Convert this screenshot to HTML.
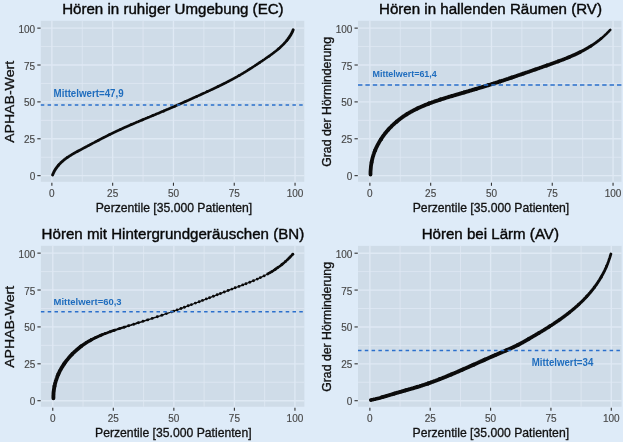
<!DOCTYPE html>
<html lang="de"><head><meta charset="utf-8"><title>APHAB Perzentile</title>
<style>
html,body{margin:0;padding:0;background:#deebf8;}
body{width:623px;height:442px;overflow:hidden;}
svg{display:block;font-family:"Liberation Sans",sans-serif;}
</style></head><body>
<svg width="623" height="442" viewBox="0 0 623 442">
<rect width="623" height="442" fill="#deebf8"/>
<g>
<rect x="40.8" y="20.8" width="263.50" height="161.00" fill="#cfdce8"/>
<line x1="82.27" x2="82.27" y1="20.8" y2="181.8" stroke="#dfe9f4" stroke-width="0.8"/>
<line y1="157.21" y2="157.21" x1="40.8" x2="304.3" stroke="#dfe9f4" stroke-width="0.8"/>
<line x1="143.06" x2="143.06" y1="20.8" y2="181.8" stroke="#dfe9f4" stroke-width="0.8"/>
<line y1="120.33" y2="120.33" x1="40.8" x2="304.3" stroke="#dfe9f4" stroke-width="0.8"/>
<line x1="203.86" x2="203.86" y1="20.8" y2="181.8" stroke="#dfe9f4" stroke-width="0.8"/>
<line y1="83.45" y2="83.45" x1="40.8" x2="304.3" stroke="#dfe9f4" stroke-width="0.8"/>
<line x1="264.65" x2="264.65" y1="20.8" y2="181.8" stroke="#dfe9f4" stroke-width="0.8"/>
<line y1="46.57" y2="46.57" x1="40.8" x2="304.3" stroke="#dfe9f4" stroke-width="0.8"/>
<line x1="51.87" x2="51.87" y1="20.8" y2="181.8" stroke="#dfe9f4" stroke-width="1.35"/>
<line y1="175.65" y2="175.65" x1="40.8" x2="304.3" stroke="#dfe9f4" stroke-width="1.35"/>
<line x1="51.87" x2="51.87" y1="182.70" y2="185.80" stroke="#333" stroke-width="1.1"/>
<line y1="175.65" y2="175.65" x1="37.30" x2="40.60" stroke="#333" stroke-width="1.1"/>
<text x="51.87" y="197.00" text-anchor="middle" font-size="10" fill="#484848" stroke="#484848" stroke-width="0.15">0</text>
<text x="35.20" y="180.15" text-anchor="end" font-size="10" fill="#484848" stroke="#484848" stroke-width="0.15">0</text>
<line x1="112.66" x2="112.66" y1="20.8" y2="181.8" stroke="#dfe9f4" stroke-width="1.35"/>
<line y1="138.77" y2="138.77" x1="40.8" x2="304.3" stroke="#dfe9f4" stroke-width="1.35"/>
<line x1="112.66" x2="112.66" y1="182.70" y2="185.80" stroke="#333" stroke-width="1.1"/>
<line y1="138.77" y2="138.77" x1="37.30" x2="40.60" stroke="#333" stroke-width="1.1"/>
<text x="112.66" y="197.00" text-anchor="middle" font-size="10" fill="#484848" stroke="#484848" stroke-width="0.15">25</text>
<text x="35.20" y="143.27" text-anchor="end" font-size="10" fill="#484848" stroke="#484848" stroke-width="0.15">25</text>
<line x1="173.46" x2="173.46" y1="20.8" y2="181.8" stroke="#dfe9f4" stroke-width="1.35"/>
<line y1="101.89" y2="101.89" x1="40.8" x2="304.3" stroke="#dfe9f4" stroke-width="1.35"/>
<line x1="173.46" x2="173.46" y1="182.70" y2="185.80" stroke="#333" stroke-width="1.1"/>
<line y1="101.89" y2="101.89" x1="37.30" x2="40.60" stroke="#333" stroke-width="1.1"/>
<text x="173.46" y="197.00" text-anchor="middle" font-size="10" fill="#484848" stroke="#484848" stroke-width="0.15">50</text>
<text x="35.20" y="106.39" text-anchor="end" font-size="10" fill="#484848" stroke="#484848" stroke-width="0.15">50</text>
<line x1="234.25" x2="234.25" y1="20.8" y2="181.8" stroke="#dfe9f4" stroke-width="1.35"/>
<line y1="65.01" y2="65.01" x1="40.8" x2="304.3" stroke="#dfe9f4" stroke-width="1.35"/>
<line x1="234.25" x2="234.25" y1="182.70" y2="185.80" stroke="#333" stroke-width="1.1"/>
<line y1="65.01" y2="65.01" x1="37.30" x2="40.60" stroke="#333" stroke-width="1.1"/>
<text x="234.25" y="197.00" text-anchor="middle" font-size="10" fill="#484848" stroke="#484848" stroke-width="0.15">75</text>
<text x="35.20" y="69.51" text-anchor="end" font-size="10" fill="#484848" stroke="#484848" stroke-width="0.15">75</text>
<line x1="295.05" x2="295.05" y1="20.8" y2="181.8" stroke="#dfe9f4" stroke-width="1.35"/>
<line y1="28.13" y2="28.13" x1="40.8" x2="304.3" stroke="#dfe9f4" stroke-width="1.35"/>
<line x1="295.05" x2="295.05" y1="182.70" y2="185.80" stroke="#333" stroke-width="1.1"/>
<line y1="28.13" y2="28.13" x1="37.30" x2="40.60" stroke="#333" stroke-width="1.1"/>
<text x="295.05" y="197.00" text-anchor="middle" font-size="10" fill="#484848" stroke="#484848" stroke-width="0.15">100</text>
<text x="35.20" y="32.63" text-anchor="end" font-size="10" fill="#484848" stroke="#484848" stroke-width="0.15">100</text>
<path d="M52.6,174.9 L53.1,173.7 L53.6,172.7 L54.1,171.6 L54.7,170.6 L55.3,169.6 L55.9,168.6 L56.6,167.7 L57.2,166.8 L57.9,165.9 L58.6,165.1" fill="none" stroke="#0b0b0b" stroke-width="2.95" stroke-linecap="round" stroke-linejoin="round"/>
<path d="M58.6,165.1 L59.0,164.6 L59.4,164.2 L59.8,163.8 L60.2,163.4 L60.5,163.0 L60.9,162.7 L61.3,162.3 L61.7,161.9 L62.1,161.5 L62.6,161.2 L63.0,160.8 L63.4,160.4 L63.8,160.1 L64.3,159.7 L64.7,159.4 L65.1,159.1 L65.6,158.7 L66.0,158.4 L66.5,158.1 L66.9,157.7 L67.4,157.4" fill="none" stroke="#0b0b0b" stroke-width="2.84" stroke-linecap="round" stroke-linejoin="round"/>
<path d="M67.4,157.4 L67.9,157.1 L68.3,156.8 L68.8,156.5 L69.3,156.2 L69.7,155.9 L70.2,155.6 L70.7,155.3 L71.2,155.0 L71.7,154.7 L72.1,154.4 L72.6,154.1 L73.1,153.8 L73.6,153.5 L74.1,153.3 L74.6,153.0 L75.1,152.7 L75.6,152.4 L76.1,152.1 L76.6,151.9 L77.1,151.6 L77.6,151.3" fill="none" stroke="#0b0b0b" stroke-width="2.74" stroke-linecap="round" stroke-linejoin="round"/>
<path d="M77.6,151.3 L78.1,151.1 L78.6,150.8 L79.1,150.5 L79.7,150.2 L80.2,150.0 L80.7,149.7 L81.2,149.4 L81.7,149.2 L82.2,148.9 L82.7,148.6 L83.2,148.3 L83.7,148.1 L84.3,147.8 L84.8,147.5 L85.3,147.3 L85.8,147.0 L86.3,146.7 L86.8,146.4 L87.3,146.2 L87.8,145.9 L88.4,145.6" fill="none" stroke="#0b0b0b" stroke-width="2.70" stroke-linecap="round" stroke-linejoin="round"/>
<path d="M88.4,145.6 L89.4,145.1 L90.4,144.5 L91.4,144.0 L92.5,143.4 L93.5,142.9 L94.5,142.4 L95.6,141.8 L96.6,141.3 L97.6,140.7 L98.6,140.2" fill="none" stroke="#0b0b0b" stroke-width="2.69" stroke-linecap="round" stroke-linejoin="round"/>
<path d="M98.6,140.2 L99.2,139.9 L99.7,139.6 L100.2,139.4 L100.7,139.1 L101.2,138.8 L101.7,138.6 L102.3,138.3 L102.8,138.0 L103.3,137.8 L103.8,137.5 L104.3,137.2 L104.8,137.0 L105.4,136.7 L105.9,136.5 L106.4,136.2 L106.9,135.9 L107.4,135.7 L107.9,135.4 L108.5,135.2 L109.0,134.9 L109.5,134.6" fill="none" stroke="#0b0b0b" stroke-width="2.69" stroke-linecap="round" stroke-linejoin="round"/>
<path d="M109.5,134.6 L110.0,134.4 L110.5,134.1 L111.0,133.9 L111.6,133.6 L112.1,133.4 L112.6,133.1 L113.1,132.9 L113.6,132.6 L114.1,132.4 L114.7,132.1 L115.2,131.9 L115.7,131.6 L116.2,131.4 L116.7,131.1 L117.3,130.9 L117.8,130.6 L118.3,130.4 L118.8,130.2 L119.3,129.9 L119.9,129.7 L120.4,129.4" fill="none" stroke="#0b0b0b" stroke-width="2.68" stroke-linecap="round" stroke-linejoin="round"/>
<path d="M120.4,129.4 L120.9,129.2 L121.4,129.0 L121.9,128.7 L122.5,128.5 L123.0,128.3 L123.5,128.0 L124.0,127.8 L124.5,127.6 L125.1,127.3 L125.6,127.1 L126.1,126.9 L126.6,126.6 L127.1,126.4 L127.7,126.2 L128.2,125.9 L128.7,125.7 L129.2,125.5 L129.7,125.3 L130.3,125.0 L130.8,124.8 L131.3,124.6" fill="none" stroke="#0b0b0b" stroke-width="2.68" stroke-linecap="round" stroke-linejoin="round"/>
<path d="M131.3,124.6 L131.8,124.4 L132.3,124.1 L132.9,123.9 L133.4,123.7 L133.9,123.5 L134.4,123.2 L135.0,123.0 L135.5,122.8 L136.0,122.6 L136.5,122.3 L137.0,122.1 L137.6,121.9 L138.1,121.7 L138.6,121.5 L139.1,121.2 L139.7,121.0 L140.2,120.8 L140.7,120.6 L141.2,120.4 L141.7,120.1 L142.3,119.9" fill="none" stroke="#0b0b0b" stroke-width="2.67" stroke-linecap="round" stroke-linejoin="round"/>
<path d="M142.3,119.9 L143.3,119.5 L144.4,119.1 L145.4,118.6 L146.4,118.2 L147.5,117.8 L148.5,117.3 L149.6,116.9 L150.6,116.4 L151.7,116.0 L152.7,115.6" fill="none" stroke="#0b0b0b" stroke-width="2.66" stroke-linecap="round" stroke-linejoin="round"/>
<path d="M152.7,115.6 L153.3,115.4 L153.8,115.1 L154.3,114.9 L154.8,114.7 L155.4,114.5 L155.9,114.3 L156.4,114.0 L156.9,113.8 L157.5,113.6 L158.0,113.4 L158.5,113.2 L159.0,113.0 L159.6,112.7 L160.1,112.5 L160.6,112.3 L161.1,112.1 L161.7,111.8 L162.2,111.6 L162.7,111.4 L163.2,111.2 L163.8,111.0" fill="none" stroke="#0b0b0b" stroke-width="2.66" stroke-linecap="round" stroke-linejoin="round"/>
<path d="M163.8,111.0 L164.3,110.7 L164.8,110.5 L165.3,110.3 L165.9,110.1 L166.4,109.8 L166.9,109.6 L167.4,109.4 L168.0,109.2 L168.5,108.9 L169.0,108.7 L169.5,108.5 L170.1,108.3 L170.6,108.0 L171.1,107.8 L171.6,107.6 L172.2,107.4 L172.7,107.1 L173.2,106.9 L173.7,106.7 L174.3,106.4 L174.8,106.2" fill="none" stroke="#0b0b0b" stroke-width="2.65" stroke-linecap="round" stroke-linejoin="round"/>
<path d="M174.8,106.2 L175.3,106.0 L175.8,105.7 L176.4,105.5 L176.9,105.3 L177.4,105.1 L177.9,104.8 L178.5,104.6 L179.0,104.4 L179.5,104.1 L180.0,103.9 L180.6,103.7 L181.1,103.4 L181.6,103.2 L182.2,103.0 L182.7,102.7 L183.2,102.5 L183.7,102.3 L184.3,102.0 L184.8,101.8 L185.3,101.6 L185.8,101.3" fill="none" stroke="#0b0b0b" stroke-width="2.65" stroke-linecap="round" stroke-linejoin="round"/>
<path d="M185.8,101.3 L186.4,101.1 L186.9,100.9 L187.4,100.6 L187.9,100.4 L188.4,100.2 L189.0,99.9 L189.5,99.7 L190.0,99.5 L190.5,99.2 L191.1,99.0 L191.6,98.7 L192.1,98.5 L192.6,98.3 L193.2,98.0 L193.7,97.8 L194.2,97.6 L194.7,97.3 L195.3,97.1 L195.8,96.9 L196.3,96.6 L196.8,96.4" fill="none" stroke="#0b0b0b" stroke-width="2.64" stroke-linecap="round" stroke-linejoin="round"/>
<path d="M196.8,96.4 L197.9,95.9 L198.9,95.4 L200.0,95.0 L201.0,94.5 L202.0,94.0 L203.1,93.5 L204.1,93.1 L205.2,92.6 L206.2,92.1 L207.2,91.6" fill="none" stroke="#0b0b0b" stroke-width="2.64" stroke-linecap="round" stroke-linejoin="round"/>
<path d="M207.2,91.6 L207.8,91.4 L208.3,91.1 L208.8,90.9 L209.3,90.7 L209.8,90.4 L210.4,90.2 L210.9,89.9 L211.4,89.7 L211.9,89.5 L212.4,89.2 L212.9,89.0 L213.5,88.7 L214.0,88.5 L214.5,88.2 L215.0,88.0 L215.5,87.8 L216.0,87.5 L216.5,87.3 L217.1,87.0 L217.6,86.8 L218.1,86.5" fill="none" stroke="#0b0b0b" stroke-width="2.63" stroke-linecap="round" stroke-linejoin="round"/>
<path d="M218.1,86.5 L218.6,86.3 L219.1,86.0 L219.6,85.8 L220.1,85.5 L220.7,85.3 L221.2,85.0 L221.7,84.8 L222.2,84.5 L222.7,84.3 L223.2,84.0 L223.7,83.8 L224.2,83.5 L224.7,83.2 L225.3,83.0 L225.8,82.7 L226.3,82.5 L226.8,82.2 L227.3,81.9 L227.8,81.7 L228.3,81.4 L228.8,81.1" fill="none" stroke="#0b0b0b" stroke-width="2.63" stroke-linecap="round" stroke-linejoin="round"/>
<path d="M228.8,81.1 L229.3,80.9 L229.8,80.6 L230.3,80.3 L230.9,80.1 L231.4,79.8 L231.9,79.5 L232.4,79.3 L232.9,79.0 L233.4,78.7 L233.9,78.4 L234.4,78.2 L234.9,77.9 L235.4,77.6 L235.9,77.3 L236.4,77.1 L236.9,76.8 L237.4,76.5 L237.9,76.2 L238.4,75.9 L238.9,75.6 L239.4,75.3" fill="none" stroke="#0b0b0b" stroke-width="2.62" stroke-linecap="round" stroke-linejoin="round"/>
<path d="M239.4,75.3 L239.9,75.1 L240.4,74.8 L240.9,74.5 L241.4,74.2 L241.9,73.9 L242.4,73.6 L242.9,73.3 L243.4,73.0 L243.9,72.7 L244.4,72.4 L244.9,72.1 L245.4,71.8 L245.9,71.5 L246.4,71.2 L246.9,70.9 L247.4,70.6 L247.8,70.2 L248.3,69.9 L248.8,69.6 L249.3,69.3 L249.8,69.0" fill="none" stroke="#0b0b0b" stroke-width="2.62" stroke-linecap="round" stroke-linejoin="round"/>
<path d="M249.8,69.0 L250.8,68.4 L251.8,67.8 L252.7,67.1 L253.7,66.5 L254.7,65.9 L255.6,65.2 L256.6,64.6 L257.6,63.9 L258.5,63.3 L259.5,62.7" fill="none" stroke="#0b0b0b" stroke-width="2.61" stroke-linecap="round" stroke-linejoin="round"/>
<path d="M259.5,62.7 L259.9,62.4 L260.4,62.0 L260.9,61.7 L261.4,61.4 L261.8,61.1 L262.3,60.8 L262.8,60.4 L263.2,60.1 L263.7,59.8 L264.2,59.5 L264.6,59.2 L265.1,58.8 L265.6,58.5 L266.0,58.2 L266.5,57.9 L267.0,57.6 L267.4,57.2 L267.9,56.9 L268.3,56.6 L268.8,56.3 L269.3,56.0" fill="none" stroke="#0b0b0b" stroke-width="2.61" stroke-linecap="round" stroke-linejoin="round"/>
<path d="M269.3,56.0 L269.7,55.6 L270.2,55.3 L270.6,55.0 L271.1,54.7 L271.5,54.4 L272.0,54.0 L272.4,53.7 L272.9,53.4 L273.3,53.0 L273.8,52.7 L274.2,52.4 L274.6,52.0 L275.1,51.7 L275.5,51.3 L276.0,51.0 L276.4,50.6 L276.8,50.3 L277.3,49.9 L277.7,49.6 L278.1,49.2 L278.6,48.8" fill="none" stroke="#0b0b0b" stroke-width="2.60" stroke-linecap="round" stroke-linejoin="round"/>
<path d="M278.6,48.8 L279.0,48.4 L279.4,48.1 L279.9,47.7 L280.3,47.3 L280.7,46.9 L281.1,46.5 L281.5,46.1 L281.9,45.7 L282.4,45.3 L282.8,44.9 L283.2,44.5 L283.6,44.1 L284.0,43.7 L284.4,43.2 L284.8,42.8 L285.2,42.4 L285.5,42.0 L285.9,41.5 L286.3,41.1 L286.7,40.6 L287.0,40.2" fill="none" stroke="#0b0b0b" stroke-width="2.75" stroke-linecap="round" stroke-linejoin="round"/>
<path d="M287.0,40.2 L287.4,39.7 L287.7,39.3 L288.1,38.8 L288.4,38.3 L288.8,37.9 L289.1,37.4 L289.4,36.9 L289.7,36.4 L290.1,35.9 L290.4,35.4 L290.7,34.9 L291.0,34.4 L291.2,33.9 L291.5,33.4 L291.8,32.9 L292.0,32.4 L292.3,31.9 L292.6,31.4 L292.8,30.8 L293.0,30.3 L293.2,29.8" fill="none" stroke="#0b0b0b" stroke-width="2.92" stroke-linecap="round" stroke-linejoin="round"/>
<line x1="40.8" x2="305.3" y1="104.99" y2="104.99" stroke="#2a6fcc" stroke-width="1.45" stroke-dasharray="3.5 3.3"/>
<text transform="translate(53.6,97.20) scale(0.955,1)" font-size="10.19" font-weight="bold" fill="#1f6dbe">Mittelwert=47,9</text>
<text x="172.9" y="14" text-anchor="middle" font-size="15.1" fill="#080808" stroke="#080808" stroke-width="0.4">Hören in ruhiger Umgebung (EC)</text>
<text x="174" y="211.75" text-anchor="middle" font-size="12.2" fill="#111" stroke="#111" stroke-width="0.3">Perzentile [35.000 Patienten]</text>
<text transform="translate(13.9,101.90) rotate(-90) scale(1,0.94)" text-anchor="middle" font-size="14.1" fill="#111" stroke="#111" stroke-width="0.33">APHAB-Wert</text>
</g>
<g>
<rect x="358.0" y="20.8" width="263.50" height="161.00" fill="#cfdce8"/>
<line x1="400.27" x2="400.27" y1="20.8" y2="181.8" stroke="#dfe9f4" stroke-width="0.8"/>
<line y1="157.21" y2="157.21" x1="358.0" x2="621.5" stroke="#dfe9f4" stroke-width="0.8"/>
<line x1="461.07" x2="461.07" y1="20.8" y2="181.8" stroke="#dfe9f4" stroke-width="0.8"/>
<line y1="120.33" y2="120.33" x1="358.0" x2="621.5" stroke="#dfe9f4" stroke-width="0.8"/>
<line x1="521.86" x2="521.86" y1="20.8" y2="181.8" stroke="#dfe9f4" stroke-width="0.8"/>
<line y1="83.45" y2="83.45" x1="358.0" x2="621.5" stroke="#dfe9f4" stroke-width="0.8"/>
<line x1="582.66" x2="582.66" y1="20.8" y2="181.8" stroke="#dfe9f4" stroke-width="0.8"/>
<line y1="46.57" y2="46.57" x1="358.0" x2="621.5" stroke="#dfe9f4" stroke-width="0.8"/>
<line x1="369.87" x2="369.87" y1="20.8" y2="181.8" stroke="#dfe9f4" stroke-width="1.35"/>
<line y1="175.65" y2="175.65" x1="358.0" x2="621.5" stroke="#dfe9f4" stroke-width="1.35"/>
<line x1="369.87" x2="369.87" y1="182.70" y2="185.80" stroke="#333" stroke-width="1.1"/>
<line y1="175.65" y2="175.65" x1="354.50" x2="357.80" stroke="#333" stroke-width="1.1"/>
<text x="369.87" y="197.00" text-anchor="middle" font-size="10" fill="#484848" stroke="#484848" stroke-width="0.15">0</text>
<text x="352.40" y="180.15" text-anchor="end" font-size="10" fill="#484848" stroke="#484848" stroke-width="0.15">0</text>
<line x1="430.67" x2="430.67" y1="20.8" y2="181.8" stroke="#dfe9f4" stroke-width="1.35"/>
<line y1="138.77" y2="138.77" x1="358.0" x2="621.5" stroke="#dfe9f4" stroke-width="1.35"/>
<line x1="430.67" x2="430.67" y1="182.70" y2="185.80" stroke="#333" stroke-width="1.1"/>
<line y1="138.77" y2="138.77" x1="354.50" x2="357.80" stroke="#333" stroke-width="1.1"/>
<text x="430.67" y="197.00" text-anchor="middle" font-size="10" fill="#484848" stroke="#484848" stroke-width="0.15">25</text>
<text x="352.40" y="143.27" text-anchor="end" font-size="10" fill="#484848" stroke="#484848" stroke-width="0.15">25</text>
<line x1="491.47" x2="491.47" y1="20.8" y2="181.8" stroke="#dfe9f4" stroke-width="1.35"/>
<line y1="101.89" y2="101.89" x1="358.0" x2="621.5" stroke="#dfe9f4" stroke-width="1.35"/>
<line x1="491.47" x2="491.47" y1="182.70" y2="185.80" stroke="#333" stroke-width="1.1"/>
<line y1="101.89" y2="101.89" x1="354.50" x2="357.80" stroke="#333" stroke-width="1.1"/>
<text x="491.47" y="197.00" text-anchor="middle" font-size="10" fill="#484848" stroke="#484848" stroke-width="0.15">50</text>
<text x="352.40" y="106.39" text-anchor="end" font-size="10" fill="#484848" stroke="#484848" stroke-width="0.15">50</text>
<line x1="552.26" x2="552.26" y1="20.8" y2="181.8" stroke="#dfe9f4" stroke-width="1.35"/>
<line y1="65.01" y2="65.01" x1="358.0" x2="621.5" stroke="#dfe9f4" stroke-width="1.35"/>
<line x1="552.26" x2="552.26" y1="182.70" y2="185.80" stroke="#333" stroke-width="1.1"/>
<line y1="65.01" y2="65.01" x1="354.50" x2="357.80" stroke="#333" stroke-width="1.1"/>
<text x="552.26" y="197.00" text-anchor="middle" font-size="10" fill="#484848" stroke="#484848" stroke-width="0.15">75</text>
<text x="352.40" y="69.51" text-anchor="end" font-size="10" fill="#484848" stroke="#484848" stroke-width="0.15">75</text>
<line x1="613.06" x2="613.06" y1="20.8" y2="181.8" stroke="#dfe9f4" stroke-width="1.35"/>
<line y1="28.13" y2="28.13" x1="358.0" x2="621.5" stroke="#dfe9f4" stroke-width="1.35"/>
<line x1="613.06" x2="613.06" y1="182.70" y2="185.80" stroke="#333" stroke-width="1.1"/>
<line y1="28.13" y2="28.13" x1="354.50" x2="357.80" stroke="#333" stroke-width="1.1"/>
<text x="613.06" y="197.00" text-anchor="middle" font-size="10" fill="#484848" stroke="#484848" stroke-width="0.15">100</text>
<text x="352.40" y="32.63" text-anchor="end" font-size="10" fill="#484848" stroke="#484848" stroke-width="0.15">100</text>
<path d="M370.5,174.5 L370.5,173.3 L370.5,172.0 L370.6,170.7 L370.7,169.5 L370.8,168.3 L370.9,167.0 L371.0,165.8 L371.2,164.6 L371.4,163.4 L371.6,162.2" fill="none" stroke="#0b0b0b" stroke-width="3.80" stroke-linecap="round" stroke-linejoin="round"/>
<path d="M371.6,162.2 L371.7,161.6 L371.8,161.0 L372.0,160.5 L372.1,159.9 L372.2,159.3 L372.4,158.7 L372.5,158.1 L372.7,157.5 L372.8,157.0 L373.0,156.4 L373.2,155.8 L373.4,155.3 L373.5,154.7 L373.7,154.1 L373.9,153.6 L374.1,153.0 L374.3,152.5 L374.5,151.9 L374.7,151.4 L374.9,150.8 L375.2,150.3" fill="none" stroke="#0b0b0b" stroke-width="3.81" stroke-linecap="round" stroke-linejoin="round"/>
<path d="M375.2,150.3 L375.4,149.7 L375.6,149.2 L375.9,148.6 L376.1,148.1 L376.3,147.6 L376.6,147.0 L376.9,146.5 L377.1,146.0 L377.4,145.5 L377.6,144.9 L377.9,144.4 L378.2,143.9 L378.5,143.4 L378.8,142.9 L379.0,142.4 L379.3,141.9 L379.6,141.4 L379.9,140.8 L380.2,140.4 L380.6,139.9 L380.9,139.4" fill="none" stroke="#0b0b0b" stroke-width="3.82" stroke-linecap="round" stroke-linejoin="round"/>
<path d="M380.9,139.4 L381.2,138.9 L381.5,138.4 L381.8,137.9 L382.2,137.4 L382.5,136.9 L382.8,136.5 L383.2,136.0 L383.5,135.5 L383.9,135.0 L384.2,134.6 L384.6,134.1 L384.9,133.6 L385.3,133.2 L385.7,132.7 L386.1,132.3 L386.4,131.8 L386.8,131.4 L387.2,130.9 L387.6,130.5 L388.0,130.1 L388.4,129.6" fill="none" stroke="#0b0b0b" stroke-width="3.83" stroke-linecap="round" stroke-linejoin="round"/>
<path d="M388.4,129.6 L389.1,128.8 L389.9,127.9 L390.8,127.1 L391.6,126.2 L392.4,125.4 L393.3,124.6 L394.2,123.8 L395.0,123.0 L395.9,122.3 L396.8,121.5" fill="none" stroke="#0b0b0b" stroke-width="3.84" stroke-linecap="round" stroke-linejoin="round"/>
<path d="M396.8,121.5 L397.3,121.1 L397.7,120.8 L398.2,120.4 L398.6,120.0 L399.1,119.7 L399.6,119.3 L400.0,118.9 L400.5,118.6 L401.0,118.2 L401.4,117.9 L401.9,117.6 L402.4,117.2 L402.9,116.9 L403.3,116.5 L403.8,116.2 L404.3,115.9 L404.8,115.6 L405.3,115.2 L405.8,114.9 L406.3,114.6 L406.7,114.3" fill="none" stroke="#0b0b0b" stroke-width="3.85" stroke-linecap="round" stroke-linejoin="round"/>
<path d="M406.7,114.3 L407.2,114.0 L407.7,113.7 L408.2,113.4 L408.7,113.1 L409.2,112.8 L409.7,112.5 L410.2,112.2 L410.8,111.9 L411.3,111.6 L411.8,111.4 L412.3,111.1 L412.8,110.8 L413.3,110.5 L413.8,110.3 L414.3,110.0 L414.9,109.7 L415.4,109.5 L415.9,109.2 L416.4,109.0 L416.9,108.7 L417.5,108.4" fill="none" stroke="#0b0b0b" stroke-width="3.85" stroke-linecap="round" stroke-linejoin="round"/>
<path d="M417.5,108.4 L418.0,108.2 L418.5,107.9 L419.1,107.7 L419.6,107.5 L420.1,107.2 L420.6,107.0 L421.2,106.7 L421.7,106.5 L422.3,106.3 L422.8,106.0 L423.3,105.8 L423.9,105.6 L424.4,105.4 L425.0,105.1 L425.5,104.9 L426.0,104.7 L426.6,104.5 L427.1,104.3 L427.7,104.1 L428.2,103.9 L428.8,103.6" fill="none" stroke="#0b0b0b" stroke-width="3.86" stroke-linecap="round" stroke-linejoin="round"/>
<path d="M428.8,103.6 L429.3,103.4 L429.9,103.2 L430.4,103.0 L431.0,102.8 L431.6,102.6 L432.1,102.4 L432.7,102.2 L433.2,102.0 L433.8,101.8 L434.3,101.6 L434.9,101.4 L435.5,101.2 L436.0,101.0 L436.6,100.9 L437.1,100.7 L437.7,100.5 L438.3,100.3 L438.8,100.1 L439.4,99.9 L440.0,99.7 L440.5,99.5" fill="none" stroke="#0b0b0b" stroke-width="3.87" stroke-linecap="round" stroke-linejoin="round"/>
<path d="M440.5,99.5 L441.7,99.2 L442.8,98.8 L444.0,98.5 L445.1,98.1 L446.2,97.7 L447.4,97.4 L448.5,97.0 L449.7,96.7 L450.8,96.3 L452.0,96.0" fill="none" stroke="#0b0b0b" stroke-width="3.88" stroke-linecap="round" stroke-linejoin="round"/>
<path d="M452.0,96.0 L452.6,95.8 L453.1,95.7 L453.7,95.5 L454.3,95.3 L454.9,95.1 L455.5,95.0 L456.0,94.8 L456.6,94.6 L457.2,94.5 L457.8,94.3 L458.4,94.1 L458.9,94.0 L459.5,93.8 L460.1,93.6 L460.7,93.4 L461.2,93.3 L461.8,93.1 L462.4,92.9 L463.0,92.8 L463.6,92.6 L464.1,92.4" fill="none" stroke="#0b0b0b" stroke-width="3.89" stroke-linecap="round" stroke-linejoin="round"/>
<path d="M464.1,92.4 L464.7,92.3 L465.3,92.1 L465.9,91.9 L466.5,91.8 L467.0,91.6 L467.6,91.4 L468.2,91.3 L468.8,91.1 L469.3,90.9 L469.9,90.7 L470.5,90.6 L471.1,90.4 L471.6,90.2 L472.2,90.1 L472.8,89.9 L473.4,89.7 L474.0,89.6 L474.5,89.4 L475.1,89.2 L475.7,89.0 L476.3,88.9" fill="none" stroke="#0b0b0b" stroke-width="3.90" stroke-linecap="round" stroke-linejoin="round"/>
<path d="M476.3,88.9 L476.8,88.7 L477.4,88.5 L478.0,88.3 L478.6,88.2 L479.1,88.0 L479.7,87.8 L480.3,87.7 L480.8,87.5 L481.4,87.3 L482.0,87.1 L482.6,87.0 L483.1,86.8 L483.7,86.6 L484.3,86.4 L484.9,86.3 L485.4,86.1 L486.0,85.9 L486.6,85.7 L487.1,85.5 L487.7,85.4 L488.3,85.2" fill="none" stroke="#0b0b0b" stroke-width="3.88" stroke-linecap="round" stroke-linejoin="round"/>
<path d="M488.3,85.2 L488.9,85.0 L489.4,84.8 L490.0,84.7 L490.6,84.5 L491.1,84.3 L491.7,84.1 L492.3,83.9 L492.8,83.8 L493.4,83.6 L494.0,83.4 L494.6,83.2 L495.1,83.0 L495.7,82.8 L496.3,82.7 L496.8,82.5 L497.4,82.3 L498.0,82.1 L498.5,81.9 L499.1,81.7 L499.7,81.6 L500.2,81.4" fill="none" stroke="#0b0b0b" stroke-width="3.85" stroke-linecap="round" stroke-linejoin="round"/>
<path d="M500.2,81.4 L501.4,81.0 L502.5,80.6 L503.6,80.3 L504.8,79.9 L505.9,79.5 L507.0,79.1 L508.2,78.8 L509.3,78.4 L510.4,78.0 L511.5,77.6" fill="none" stroke="#0b0b0b" stroke-width="3.81" stroke-linecap="round" stroke-linejoin="round"/>
<path d="M511.5,77.6 L512.1,77.4 L512.7,77.2 L513.2,77.1 L513.8,76.9 L514.4,76.7 L514.9,76.5 L515.5,76.3 L516.1,76.1 L516.6,75.9 L517.2,75.7 L517.7,75.5 L518.3,75.3 L518.9,75.1 L519.4,75.0 L520.0,74.8 L520.5,74.6 L521.1,74.4 L521.7,74.2 L522.2,74.0 L522.8,73.8 L523.4,73.6" fill="none" stroke="#0b0b0b" stroke-width="3.77" stroke-linecap="round" stroke-linejoin="round"/>
<path d="M523.4,73.6 L523.9,73.4 L524.5,73.2 L525.0,73.0 L525.6,72.8 L526.2,72.6 L526.7,72.5 L527.3,72.3 L527.8,72.1 L528.4,71.9 L529.0,71.7 L529.5,71.5 L530.1,71.3 L530.6,71.1 L531.2,70.9 L531.7,70.7 L532.3,70.5 L532.9,70.3 L533.4,70.1 L534.0,69.9 L534.5,69.7 L535.1,69.5" fill="none" stroke="#0b0b0b" stroke-width="3.74" stroke-linecap="round" stroke-linejoin="round"/>
<path d="M535.1,69.5 L535.6,69.4 L536.2,69.2 L536.8,69.0 L537.3,68.8 L537.9,68.6 L538.4,68.4 L539.0,68.2 L539.5,68.0 L540.1,67.8 L540.7,67.6 L541.2,67.4 L541.8,67.2 L542.3,67.0 L542.9,66.8 L543.4,66.6 L544.0,66.4 L544.5,66.2 L545.1,66.0 L545.7,65.9 L546.2,65.7 L546.8,65.5" fill="none" stroke="#0b0b0b" stroke-width="3.70" stroke-linecap="round" stroke-linejoin="round"/>
<path d="M546.8,65.5 L547.3,65.3 L547.9,65.1 L548.4,64.9 L549.0,64.7 L549.5,64.5 L550.1,64.3 L550.6,64.1 L551.2,63.9 L551.7,63.7 L552.3,63.5 L552.9,63.3 L553.4,63.1 L554.0,62.9 L554.5,62.7 L555.1,62.5 L555.6,62.3 L556.2,62.1 L556.7,61.9 L557.3,61.7 L557.8,61.5 L558.4,61.3" fill="none" stroke="#0b0b0b" stroke-width="3.67" stroke-linecap="round" stroke-linejoin="round"/>
<path d="M558.4,61.3 L559.4,60.9 L560.5,60.5 L561.6,60.1 L562.7,59.7 L563.8,59.3 L564.9,58.8 L566.0,58.4 L567.0,58.0 L568.1,57.5 L569.2,57.1" fill="none" stroke="#0b0b0b" stroke-width="3.63" stroke-linecap="round" stroke-linejoin="round"/>
<path d="M569.2,57.1 L569.7,56.9 L570.3,56.6 L570.8,56.4 L571.3,56.2 L571.9,55.9 L572.4,55.7 L572.9,55.5 L573.5,55.2 L574.0,55.0 L574.5,54.8 L575.1,54.5 L575.6,54.3 L576.1,54.0 L576.6,53.8 L577.2,53.5 L577.7,53.3 L578.2,53.0 L578.7,52.8 L579.2,52.5 L579.8,52.3 L580.3,52.0" fill="none" stroke="#0b0b0b" stroke-width="3.56" stroke-linecap="round" stroke-linejoin="round"/>
<path d="M580.3,52.0 L580.8,51.7 L581.3,51.5 L581.8,51.2 L582.3,50.9 L582.9,50.7 L583.4,50.4 L583.9,50.1 L584.4,49.8 L584.9,49.5 L585.4,49.3 L585.9,49.0 L586.4,48.7 L586.9,48.4 L587.4,48.1 L587.9,47.8 L588.4,47.5 L588.9,47.2 L589.4,46.9 L589.9,46.6 L590.4,46.3 L590.9,46.0" fill="none" stroke="#0b0b0b" stroke-width="3.20" stroke-linecap="round" stroke-linejoin="round"/>
<path d="M590.9,46.0 L591.4,45.7 L591.9,45.3 L592.4,45.0 L592.9,44.7 L593.4,44.4 L593.8,44.0 L594.3,43.7 L594.8,43.4 L595.3,43.0 L595.8,42.7 L596.3,42.3 L596.7,42.0 L597.2,41.6 L597.7,41.3 L598.2,40.9 L598.6,40.5 L599.1,40.2 L599.6,39.8 L600.0,39.4 L600.5,39.0 L601.0,38.7" fill="none" stroke="#0b0b0b" stroke-width="2.85" stroke-linecap="round" stroke-linejoin="round"/>
<path d="M601.0,38.7 L601.4,38.3 L601.9,37.9 L602.4,37.5 L602.8,37.1 L603.3,36.7 L603.7,36.3 L604.2,35.9 L604.6,35.5 L605.1,35.1 L605.5,34.6 L606.0,34.2 L606.4,33.8 L606.9,33.4 L607.3,32.9 L607.7,32.5 L608.2,32.1 L608.6,31.6 L609.0,31.2 L609.5,30.7 L609.9,30.2 L610.3,29.8" fill="none" stroke="#0b0b0b" stroke-width="2.55" stroke-linecap="round" stroke-linejoin="round"/>
<line x1="358.0" x2="622.5" y1="85.07" y2="85.07" stroke="#2a6fcc" stroke-width="1.45" stroke-dasharray="4.4 3"/>
<text transform="translate(372.5,77.20) scale(0.955,1)" font-size="9.36" font-weight="bold" fill="#1f6dbe">Mittelwert=61,4</text>
<text x="490.5" y="14" text-anchor="middle" font-size="15.1" fill="#080808" stroke="#080808" stroke-width="0.4">Hören in hallenden Räumen (RV)</text>
<text x="491" y="211.75" text-anchor="middle" font-size="12.2" fill="#111" stroke="#111" stroke-width="0.3">Perzentile [35.000 Patienten]</text>
<text transform="translate(331.4,101.90) rotate(-90) scale(1,1.08)" text-anchor="middle" font-size="12.3" fill="#111" stroke="#111" stroke-width="0.33">Grad der Hörminderung</text>
</g>
<g>
<rect x="40.9" y="245.8" width="263.50" height="160.95" fill="#cfdce8"/>
<line x1="83.03" x2="83.03" y1="245.8" y2="406.75" stroke="#dfe9f4" stroke-width="0.8"/>
<line y1="382.25" y2="382.25" x1="40.9" x2="304.4" stroke="#dfe9f4" stroke-width="0.8"/>
<line x1="143.58" x2="143.58" y1="245.8" y2="406.75" stroke="#dfe9f4" stroke-width="0.8"/>
<line y1="345.36" y2="345.36" x1="40.9" x2="304.4" stroke="#dfe9f4" stroke-width="0.8"/>
<line x1="204.12" x2="204.12" y1="245.8" y2="406.75" stroke="#dfe9f4" stroke-width="0.8"/>
<line y1="308.47" y2="308.47" x1="40.9" x2="304.4" stroke="#dfe9f4" stroke-width="0.8"/>
<line x1="264.67" x2="264.67" y1="245.8" y2="406.75" stroke="#dfe9f4" stroke-width="0.8"/>
<line y1="271.58" y2="271.58" x1="40.9" x2="304.4" stroke="#dfe9f4" stroke-width="0.8"/>
<line x1="52.76" x2="52.76" y1="245.8" y2="406.75" stroke="#dfe9f4" stroke-width="1.35"/>
<line y1="400.70" y2="400.70" x1="40.9" x2="304.4" stroke="#dfe9f4" stroke-width="1.35"/>
<line x1="52.76" x2="52.76" y1="407.65" y2="410.75" stroke="#333" stroke-width="1.1"/>
<line y1="400.70" y2="400.70" x1="37.40" x2="40.70" stroke="#333" stroke-width="1.1"/>
<text x="52.76" y="421.95" text-anchor="middle" font-size="10" fill="#484848" stroke="#484848" stroke-width="0.15">0</text>
<text x="35.30" y="405.20" text-anchor="end" font-size="10" fill="#484848" stroke="#484848" stroke-width="0.15">0</text>
<line x1="113.31" x2="113.31" y1="245.8" y2="406.75" stroke="#dfe9f4" stroke-width="1.35"/>
<line y1="363.81" y2="363.81" x1="40.9" x2="304.4" stroke="#dfe9f4" stroke-width="1.35"/>
<line x1="113.31" x2="113.31" y1="407.65" y2="410.75" stroke="#333" stroke-width="1.1"/>
<line y1="363.81" y2="363.81" x1="37.40" x2="40.70" stroke="#333" stroke-width="1.1"/>
<text x="113.31" y="421.95" text-anchor="middle" font-size="10" fill="#484848" stroke="#484848" stroke-width="0.15">25</text>
<text x="35.30" y="368.31" text-anchor="end" font-size="10" fill="#484848" stroke="#484848" stroke-width="0.15">25</text>
<line x1="173.85" x2="173.85" y1="245.8" y2="406.75" stroke="#dfe9f4" stroke-width="1.35"/>
<line y1="326.91" y2="326.91" x1="40.9" x2="304.4" stroke="#dfe9f4" stroke-width="1.35"/>
<line x1="173.85" x2="173.85" y1="407.65" y2="410.75" stroke="#333" stroke-width="1.1"/>
<line y1="326.91" y2="326.91" x1="37.40" x2="40.70" stroke="#333" stroke-width="1.1"/>
<text x="173.85" y="421.95" text-anchor="middle" font-size="10" fill="#484848" stroke="#484848" stroke-width="0.15">50</text>
<text x="35.30" y="331.41" text-anchor="end" font-size="10" fill="#484848" stroke="#484848" stroke-width="0.15">50</text>
<line x1="234.40" x2="234.40" y1="245.8" y2="406.75" stroke="#dfe9f4" stroke-width="1.35"/>
<line y1="290.02" y2="290.02" x1="40.9" x2="304.4" stroke="#dfe9f4" stroke-width="1.35"/>
<line x1="234.40" x2="234.40" y1="407.65" y2="410.75" stroke="#333" stroke-width="1.1"/>
<line y1="290.02" y2="290.02" x1="37.40" x2="40.70" stroke="#333" stroke-width="1.1"/>
<text x="234.40" y="421.95" text-anchor="middle" font-size="10" fill="#484848" stroke="#484848" stroke-width="0.15">75</text>
<text x="35.30" y="294.52" text-anchor="end" font-size="10" fill="#484848" stroke="#484848" stroke-width="0.15">75</text>
<line x1="294.94" x2="294.94" y1="245.8" y2="406.75" stroke="#dfe9f4" stroke-width="1.35"/>
<line y1="253.13" y2="253.13" x1="40.9" x2="304.4" stroke="#dfe9f4" stroke-width="1.35"/>
<line x1="294.94" x2="294.94" y1="407.65" y2="410.75" stroke="#333" stroke-width="1.1"/>
<line y1="253.13" y2="253.13" x1="37.40" x2="40.70" stroke="#333" stroke-width="1.1"/>
<text x="294.94" y="421.95" text-anchor="middle" font-size="10" fill="#484848" stroke="#484848" stroke-width="0.15">100</text>
<text x="35.30" y="257.63" text-anchor="end" font-size="10" fill="#484848" stroke="#484848" stroke-width="0.15">100</text>
<path d="M53.4,398.2 L53.4,396.9 L53.4,395.7 L53.5,394.5 L53.5,393.3 L53.6,392.1 L53.8,390.9 L53.9,389.7 L54.1,388.5 L54.3,387.3 L54.5,386.1" fill="none" stroke="#0b0b0b" stroke-width="3.88" stroke-linecap="round" stroke-linejoin="round"/>
<path d="M54.5,386.1 L54.6,385.5 L54.8,384.9 L54.9,384.4 L55.0,383.8 L55.2,383.2 L55.3,382.6 L55.5,382.1 L55.7,381.5 L55.8,380.9 L56.0,380.4 L56.2,379.8 L56.4,379.2 L56.6,378.7 L56.8,378.1 L57.0,377.6 L57.2,377.0 L57.4,376.5 L57.6,375.9 L57.8,375.4 L58.1,374.8 L58.3,374.3" fill="none" stroke="#0b0b0b" stroke-width="3.84" stroke-linecap="round" stroke-linejoin="round"/>
<path d="M58.3,374.3 L58.6,373.7 L58.8,373.2 L59.1,372.7 L59.3,372.1 L59.6,371.6 L59.8,371.1 L60.1,370.6 L60.4,370.1 L60.7,369.5 L61.0,369.0 L61.2,368.5 L61.5,368.0 L61.8,367.5 L62.1,367.0 L62.5,366.5 L62.8,366.0 L63.1,365.5 L63.4,365.0 L63.7,364.5 L64.1,364.0 L64.4,363.5" fill="none" stroke="#0b0b0b" stroke-width="3.80" stroke-linecap="round" stroke-linejoin="round"/>
<path d="M64.4,363.5 L64.7,363.0 L65.1,362.6 L65.4,362.1 L65.8,361.6 L66.1,361.1 L66.5,360.7 L66.9,360.2 L67.2,359.8 L67.6,359.3 L68.0,358.8 L68.3,358.4 L68.7,357.9 L69.1,357.5 L69.5,357.0 L69.9,356.6 L70.3,356.2 L70.7,355.7 L71.1,355.3 L71.5,354.9 L71.9,354.5 L72.3,354.0" fill="none" stroke="#0b0b0b" stroke-width="3.75" stroke-linecap="round" stroke-linejoin="round"/>
<path d="M72.3,354.0 L73.1,353.2 L74.0,352.4 L74.8,351.6 L75.7,350.8 L76.6,350.0 L77.5,349.3 L78.4,348.5 L79.3,347.8 L80.2,347.0 L81.1,346.3" fill="none" stroke="#0b0b0b" stroke-width="3.71" stroke-linecap="round" stroke-linejoin="round"/>
<path d="M81.1,346.3 L81.6,346.0 L82.0,345.7 L82.5,345.3 L83.0,345.0 L83.5,344.6 L83.9,344.3 L84.4,344.0 L84.9,343.7 L85.4,343.4 L85.8,343.0 L86.3,342.7 L86.8,342.4 L87.3,342.1 L87.8,341.8 L88.3,341.5 L88.8,341.2 L89.3,341.0 L89.8,340.7 L90.3,340.4 L90.8,340.1 L91.3,339.8" fill="none" stroke="#0b0b0b" stroke-width="3.44" stroke-linecap="round" stroke-linejoin="round"/>
<path d="M91.3,339.8 L91.8,339.6 L92.3,339.3 L92.8,339.0 L93.3,338.8 L93.8,338.5 L94.3,338.3 L94.8,338.0 L95.3,337.8 L95.8,337.5 L96.3,337.3 L96.9,337.0 L97.4,336.8 L97.9,336.6 L98.4,336.3 L98.9,336.1 L99.5,335.9 L100.0,335.6 L100.5,335.4 L101.0,335.2 L101.6,335.0 L102.1,334.7" fill="none" stroke="#0b0b0b" stroke-width="3.06" stroke-linecap="round" stroke-linejoin="round"/>
<path d="M102.1,334.7 L102.6,334.5 L103.2,334.3 L103.7,334.1 L104.2,333.9 L104.8,333.7 L105.3,333.5 L105.8,333.3 L106.4,333.1 L106.9,332.9 L107.5,332.7 L108.0,332.5 L108.5,332.3 L109.1,332.1 L109.6,331.9 L110.2,331.7 L110.7,331.5 L111.3,331.3 L111.8,331.1 L112.4,330.9 L112.9,330.8 L113.5,330.6" fill="none" stroke="#0b0b0b" stroke-width="2.67" stroke-linecap="round" stroke-linejoin="round"/>
<path d="M113.5,330.6 L114.0,330.4 L114.6,330.2 L115.1,330.0 L115.7,329.8 L116.2,329.7 L116.8,329.5 L117.3,329.3 L117.9,329.1 L118.5,328.9 L119.0,328.8 L119.6,328.6 L120.1,328.4 L120.7,328.2 L121.3,328.1 L121.8,327.9 L122.4,327.7 L123.0,327.5 L123.5,327.4 L124.1,327.2 L124.7,327.0 L125.2,326.8" fill="none" stroke="#0b0b0b" stroke-width="2.26" stroke-linecap="round" stroke-linejoin="round"/>
<path d="M125.2,326.8 L126.4,326.5 L127.5,326.1 L128.6,325.8 L129.8,325.4 L130.9,325.1 L132.1,324.7 L133.2,324.4 L134.3,324.0 L135.5,323.7 L136.6,323.3" fill="none" stroke="#0b0b0b" stroke-width="1.84" stroke-linecap="round" stroke-linejoin="round"/>
<path d="M136.6,323.3 L137.2,323.1 L137.8,323.0 L138.4,322.8 L138.9,322.6 L139.5,322.4 L140.1,322.2 L140.7,322.1 L141.2,321.9 L141.8,321.7 L142.4,321.5 L143.0,321.3 L143.5,321.2 L144.1,321.0 L144.7,320.8 L145.3,320.6 L145.8,320.4 L146.4,320.2 L147.0,320.1 L147.6,319.9 L148.1,319.7 L148.7,319.5" fill="none" stroke="#0b0b0b" stroke-width="1.61" stroke-linecap="round" stroke-linejoin="round"/>
<path d="M148.7,319.5 L149.3,319.3 L149.9,319.1 L150.4,319.0 L151.0,318.8 L151.6,318.6 L152.2,318.4 L152.7,318.2 L153.3,318.0 L153.9,317.8 L154.5,317.7 L155.0,317.5 L155.6,317.3 L156.2,317.1 L156.8,316.9 L157.3,316.7 L157.9,316.5 L158.5,316.3 L159.0,316.1 L159.6,316.0 L160.2,315.8 L160.8,315.6" fill="none" stroke="#0b0b0b" stroke-width="1.40" stroke-linecap="round" stroke-linejoin="round"/>
<path d="M160.8,315.6 L161.3,315.4 L161.9,315.2 L162.5,315.0 L163.0,314.8 L163.6,314.6 L164.2,314.4 L164.7,314.2 L165.3,314.0 L165.9,313.8 L166.4,313.6 L167.0,313.5 L167.6,313.3 L168.1,313.1 L168.7,312.9 L169.3,312.7 L169.8,312.5 L170.4,312.3 L170.9,312.1 L171.5,311.9 L172.1,311.7 L172.6,311.5" fill="none" stroke="#0b0b0b" stroke-width="1.29" stroke-linecap="round" stroke-linejoin="round"/>
<path d="M172.6,311.5 L173.2,311.3 L173.8,311.1 L174.3,310.9 L174.9,310.7 L175.4,310.5 L176.0,310.3 L176.6,310.1 L177.1,309.9 L177.7,309.7 L178.2,309.5 L178.8,309.3 L179.3,309.1 L179.9,308.9 L180.5,308.7 L181.0,308.5 L181.6,308.3 L182.1,308.1 L182.7,307.9 L183.2,307.7 L183.8,307.5 L184.4,307.3" fill="none" stroke="#0b0b0b" stroke-width="1.28" stroke-linecap="round" stroke-linejoin="round"/>
<path d="M184.4,307.3 L185.5,306.8 L186.6,306.4 L187.7,306.0 L188.8,305.6 L189.9,305.2 L191.0,304.8 L192.1,304.4 L193.2,304.0 L194.3,303.5 L195.4,303.1" fill="none" stroke="#0b0b0b" stroke-width="1.26" stroke-linecap="round" stroke-linejoin="round"/>
<path d="M195.4,303.1 L195.9,302.9 L196.5,302.7 L197.0,302.5 L197.6,302.3 L198.1,302.1 L198.7,301.9 L199.2,301.7 L199.8,301.5 L200.3,301.3 L200.9,301.0 L201.4,300.8 L202.0,300.6 L202.5,300.4 L203.1,300.2 L203.6,300.0 L204.2,299.8 L204.7,299.6 L205.3,299.4 L205.8,299.2 L206.3,298.9 L206.9,298.7" fill="none" stroke="#0b0b0b" stroke-width="1.24" stroke-linecap="round" stroke-linejoin="round"/>
<path d="M206.9,298.7 L207.4,298.5 L208.0,298.3 L208.5,298.1 L209.1,297.9 L209.6,297.7 L210.2,297.5 L210.7,297.3 L211.3,297.1 L211.8,296.8 L212.3,296.6 L212.9,296.4 L213.4,296.2 L214.0,296.0 L214.5,295.8 L215.1,295.6 L215.6,295.4 L216.2,295.2 L216.7,295.0 L217.2,294.7 L217.8,294.5 L218.3,294.3" fill="none" stroke="#0b0b0b" stroke-width="1.23" stroke-linecap="round" stroke-linejoin="round"/>
<path d="M218.3,294.3 L218.9,294.1 L219.4,293.9 L220.0,293.7 L220.5,293.5 L221.0,293.3 L221.6,293.1 L222.1,292.9 L222.7,292.6 L223.2,292.4 L223.8,292.2 L224.3,292.0 L224.8,291.8 L225.4,291.6 L225.9,291.4 L226.5,291.2 L227.0,291.0 L227.6,290.8 L228.1,290.5 L228.6,290.3 L229.2,290.1 L229.7,289.9" fill="none" stroke="#0b0b0b" stroke-width="1.21" stroke-linecap="round" stroke-linejoin="round"/>
<path d="M229.7,289.9 L230.3,289.7 L230.8,289.5 L231.4,289.3 L231.9,289.1 L232.4,288.9 L233.0,288.7 L233.5,288.5 L234.1,288.2 L234.6,288.0 L235.2,287.8 L235.7,287.6 L236.2,287.4 L236.8,287.2 L237.3,287.0 L237.9,286.8 L238.4,286.6 L239.0,286.4 L239.5,286.2 L240.0,286.0 L240.6,285.8 L241.1,285.6" fill="none" stroke="#0b0b0b" stroke-width="1.19" stroke-linecap="round" stroke-linejoin="round"/>
<path d="M241.1,285.6 L242.2,285.1 L243.3,284.7 L244.4,284.3 L245.5,283.9 L246.5,283.5 L247.6,283.0 L248.7,282.6 L249.8,282.2 L250.9,281.8 L251.9,281.3" fill="none" stroke="#0b0b0b" stroke-width="1.18" stroke-linecap="round" stroke-linejoin="round"/>
<path d="M251.9,281.3 L252.5,281.1 L253.0,280.9 L253.5,280.7 L254.1,280.4 L254.6,280.2 L255.1,280.0 L255.7,279.8 L256.2,279.5 L256.7,279.3 L257.3,279.1 L257.8,278.8 L258.3,278.6 L258.8,278.3 L259.4,278.1 L259.9,277.9 L260.4,277.6 L260.9,277.4 L261.5,277.1 L262.0,276.9 L262.5,276.6 L263.0,276.4" fill="none" stroke="#0b0b0b" stroke-width="1.16" stroke-linecap="round" stroke-linejoin="round"/>
<path d="M263.0,276.4 L263.6,276.1 L264.1,275.9 L264.6,275.6 L265.1,275.3 L265.6,275.1 L266.1,274.8 L266.7,274.5 L267.2,274.3 L267.7,274.0 L268.2,273.7 L268.7,273.4 L269.2,273.1 L269.7,272.8 L270.2,272.6 L270.7,272.3 L271.2,272.0 L271.7,271.7 L272.2,271.4 L272.7,271.1 L273.2,270.7 L273.7,270.4" fill="none" stroke="#0b0b0b" stroke-width="1.14" stroke-linecap="round" stroke-linejoin="round"/>
<path d="M273.7,270.4 L274.2,270.1 L274.7,269.8 L275.2,269.5 L275.7,269.1 L276.1,268.8 L276.6,268.5 L277.1,268.2 L277.6,267.8 L278.1,267.5 L278.5,267.1 L279.0,266.8 L279.5,266.4 L280.0,266.1 L280.4,265.7 L280.9,265.3 L281.4,265.0 L281.8,264.6 L282.3,264.2 L282.8,263.9 L283.2,263.5 L283.7,263.1" fill="none" stroke="#0b0b0b" stroke-width="1.12" stroke-linecap="round" stroke-linejoin="round"/>
<path d="M283.7,263.1 L284.1,262.7 L284.6,262.3 L285.1,261.9 L285.5,261.5 L285.9,261.1 L286.4,260.7 L286.8,260.3 L287.3,259.9 L287.7,259.5 L288.2,259.1 L288.6,258.6 L289.0,258.2 L289.5,257.8 L289.9,257.3 L290.3,256.9 L290.7,256.5 L291.1,256.0 L291.6,255.6 L292.0,255.1 L292.4,254.6 L292.8,254.2" fill="none" stroke="#0b0b0b" stroke-width="1.11" stroke-linecap="round" stroke-linejoin="round"/>
<g fill="#0b0b0b"><circle cx="81.6" cy="346.0" r="1.45"/><circle cx="86.3" cy="342.7" r="1.45"/><circle cx="91.3" cy="339.8" r="1.45"/><circle cx="95.8" cy="337.5" r="1.45"/><circle cx="100.5" cy="335.4" r="1.45"/><circle cx="105.3" cy="333.5" r="1.45"/><circle cx="110.2" cy="331.7" r="1.45"/><circle cx="114.6" cy="330.2" r="1.45"/><circle cx="119.6" cy="328.6" r="1.45"/><circle cx="124.1" cy="327.2" r="1.45"/><circle cx="128.6" cy="325.8" r="1.45"/><circle cx="133.8" cy="324.2" r="1.45"/><circle cx="138.4" cy="322.8" r="1.45"/><circle cx="143.0" cy="321.3" r="1.45"/><circle cx="147.6" cy="319.9" r="1.45"/><circle cx="152.2" cy="318.4" r="1.45"/><circle cx="157.3" cy="316.7" r="1.45"/><circle cx="161.9" cy="315.2" r="1.45"/><circle cx="166.4" cy="313.6" r="1.45"/><circle cx="171.5" cy="311.9" r="1.45"/><circle cx="173.8" cy="311.1" r="1.45"/><circle cx="177.1" cy="309.9" r="1.45"/><circle cx="181.0" cy="308.5" r="1.45"/><circle cx="184.4" cy="307.3" r="1.45"/><circle cx="188.2" cy="305.8" r="1.45"/><circle cx="191.5" cy="304.6" r="1.45"/><circle cx="195.4" cy="303.1" r="1.45"/><circle cx="199.2" cy="301.7" r="1.45"/><circle cx="202.5" cy="300.4" r="1.45"/><circle cx="206.3" cy="298.9" r="1.45"/><circle cx="209.6" cy="297.7" r="1.45"/><circle cx="213.4" cy="296.2" r="1.45"/><circle cx="217.2" cy="294.7" r="1.45"/><circle cx="220.5" cy="293.5" r="1.45"/><circle cx="224.3" cy="292.0" r="1.45"/><circle cx="228.1" cy="290.5" r="1.45"/><circle cx="231.9" cy="289.1" r="1.45"/><circle cx="235.2" cy="287.8" r="1.45"/><circle cx="239.0" cy="286.4" r="1.45"/><circle cx="242.8" cy="284.9" r="1.45"/><circle cx="246.0" cy="283.7" r="1.45"/><circle cx="249.8" cy="282.2" r="1.45"/><circle cx="253.5" cy="280.7" r="1.45"/><circle cx="257.3" cy="279.1" r="1.45"/><circle cx="260.4" cy="277.6" r="1.45"/><circle cx="264.1" cy="275.9" r="1.45"/><circle cx="267.7" cy="274.0" r="1.45"/><circle cx="269.2" cy="273.1" r="1.45"/><circle cx="270.2" cy="272.6" r="1.45"/><circle cx="271.7" cy="271.7" r="1.45"/><circle cx="272.7" cy="271.1" r="1.45"/><circle cx="274.2" cy="270.1" r="1.45"/><circle cx="275.2" cy="269.5" r="1.45"/><circle cx="276.1" cy="268.8" r="1.45"/><circle cx="277.6" cy="267.8" r="1.45"/><circle cx="278.5" cy="267.1" r="1.45"/><circle cx="280.0" cy="266.1" r="1.45"/><circle cx="281.4" cy="265.0" r="1.45"/><circle cx="282.3" cy="264.2" r="1.45"/><circle cx="283.7" cy="263.1" r="1.45"/><circle cx="285.1" cy="261.9" r="1.45"/><circle cx="285.9" cy="261.1" r="1.45"/><circle cx="287.3" cy="259.9" r="1.45"/><circle cx="288.6" cy="258.6" r="1.45"/><circle cx="289.5" cy="257.8" r="1.45"/><circle cx="290.7" cy="256.5" r="1.45"/><circle cx="292.0" cy="255.1" r="1.45"/><circle cx="292.8" cy="254.2" r="1.45"/></g>
<line x1="40.9" x2="305.4" y1="311.72" y2="311.72" stroke="#2a6fcc" stroke-width="1.45" stroke-dasharray="3.5 3.3"/>
<text transform="translate(53.5,304.70) scale(0.955,1)" font-size="9.93" font-weight="bold" fill="#1f6dbe">Mittelwert=60,3</text>
<text x="172.9" y="238.6" text-anchor="middle" font-size="15.1" fill="#080808" stroke="#080808" stroke-width="0.4">Hören mit Hintergrundgeräuschen (BN)</text>
<text x="173.3" y="436.70" text-anchor="middle" font-size="12.2" fill="#111" stroke="#111" stroke-width="0.3">Perzentile [35.000 Patienten]</text>
<text transform="translate(13.9,326.88) rotate(-90) scale(1,0.94)" text-anchor="middle" font-size="14.1" fill="#111" stroke="#111" stroke-width="0.33">APHAB-Wert</text>
</g>
<g>
<rect x="358.0" y="245.85" width="263.60" height="160.90" fill="#cfdce8"/>
<line x1="400.05" x2="400.05" y1="245.85" y2="406.75" stroke="#dfe9f4" stroke-width="0.8"/>
<line y1="382.26" y2="382.26" x1="358.0" x2="621.6" stroke="#dfe9f4" stroke-width="0.8"/>
<line x1="460.41" x2="460.41" y1="245.85" y2="406.75" stroke="#dfe9f4" stroke-width="0.8"/>
<line y1="345.39" y2="345.39" x1="358.0" x2="621.6" stroke="#dfe9f4" stroke-width="0.8"/>
<line x1="520.76" x2="520.76" y1="245.85" y2="406.75" stroke="#dfe9f4" stroke-width="0.8"/>
<line y1="308.51" y2="308.51" x1="358.0" x2="621.6" stroke="#dfe9f4" stroke-width="0.8"/>
<line x1="581.12" x2="581.12" y1="245.85" y2="406.75" stroke="#dfe9f4" stroke-width="0.8"/>
<line y1="271.64" y2="271.64" x1="358.0" x2="621.6" stroke="#dfe9f4" stroke-width="0.8"/>
<line x1="369.87" x2="369.87" y1="245.85" y2="406.75" stroke="#dfe9f4" stroke-width="1.35"/>
<line y1="400.70" y2="400.70" x1="358.0" x2="621.6" stroke="#dfe9f4" stroke-width="1.35"/>
<line x1="369.87" x2="369.87" y1="407.65" y2="410.75" stroke="#333" stroke-width="1.1"/>
<line y1="400.70" y2="400.70" x1="354.50" x2="357.80" stroke="#333" stroke-width="1.1"/>
<text x="369.87" y="421.95" text-anchor="middle" font-size="10" fill="#484848" stroke="#484848" stroke-width="0.15">0</text>
<text x="352.40" y="405.20" text-anchor="end" font-size="10" fill="#484848" stroke="#484848" stroke-width="0.15">0</text>
<line x1="430.23" x2="430.23" y1="245.85" y2="406.75" stroke="#dfe9f4" stroke-width="1.35"/>
<line y1="363.82" y2="363.82" x1="358.0" x2="621.6" stroke="#dfe9f4" stroke-width="1.35"/>
<line x1="430.23" x2="430.23" y1="407.65" y2="410.75" stroke="#333" stroke-width="1.1"/>
<line y1="363.82" y2="363.82" x1="354.50" x2="357.80" stroke="#333" stroke-width="1.1"/>
<text x="430.23" y="421.95" text-anchor="middle" font-size="10" fill="#484848" stroke="#484848" stroke-width="0.15">25</text>
<text x="352.40" y="368.32" text-anchor="end" font-size="10" fill="#484848" stroke="#484848" stroke-width="0.15">25</text>
<line x1="490.58" x2="490.58" y1="245.85" y2="406.75" stroke="#dfe9f4" stroke-width="1.35"/>
<line y1="326.95" y2="326.95" x1="358.0" x2="621.6" stroke="#dfe9f4" stroke-width="1.35"/>
<line x1="490.58" x2="490.58" y1="407.65" y2="410.75" stroke="#333" stroke-width="1.1"/>
<line y1="326.95" y2="326.95" x1="354.50" x2="357.80" stroke="#333" stroke-width="1.1"/>
<text x="490.58" y="421.95" text-anchor="middle" font-size="10" fill="#484848" stroke="#484848" stroke-width="0.15">50</text>
<text x="352.40" y="331.45" text-anchor="end" font-size="10" fill="#484848" stroke="#484848" stroke-width="0.15">50</text>
<line x1="550.94" x2="550.94" y1="245.85" y2="406.75" stroke="#dfe9f4" stroke-width="1.35"/>
<line y1="290.07" y2="290.07" x1="358.0" x2="621.6" stroke="#dfe9f4" stroke-width="1.35"/>
<line x1="550.94" x2="550.94" y1="407.65" y2="410.75" stroke="#333" stroke-width="1.1"/>
<line y1="290.07" y2="290.07" x1="354.50" x2="357.80" stroke="#333" stroke-width="1.1"/>
<text x="550.94" y="421.95" text-anchor="middle" font-size="10" fill="#484848" stroke="#484848" stroke-width="0.15">75</text>
<text x="352.40" y="294.57" text-anchor="end" font-size="10" fill="#484848" stroke="#484848" stroke-width="0.15">75</text>
<line x1="611.30" x2="611.30" y1="245.85" y2="406.75" stroke="#dfe9f4" stroke-width="1.35"/>
<line y1="253.20" y2="253.20" x1="358.0" x2="621.6" stroke="#dfe9f4" stroke-width="1.35"/>
<line x1="611.30" x2="611.30" y1="407.65" y2="410.75" stroke="#333" stroke-width="1.1"/>
<line y1="253.20" y2="253.20" x1="354.50" x2="357.80" stroke="#333" stroke-width="1.1"/>
<text x="611.30" y="421.95" text-anchor="middle" font-size="10" fill="#484848" stroke="#484848" stroke-width="0.15">100</text>
<text x="352.40" y="257.70" text-anchor="end" font-size="10" fill="#484848" stroke="#484848" stroke-width="0.15">100</text>
<path d="M370.8,400.1 L372.0,399.8 L373.1,399.6 L374.2,399.3 L375.4,399.1 L376.5,398.8 L377.7,398.5 L378.8,398.2 L379.9,397.9 L381.1,397.5 L382.2,397.2" fill="none" stroke="#0b0b0b" stroke-width="3.66" stroke-linecap="round" stroke-linejoin="round"/>
<path d="M382.2,397.2 L382.8,397.1 L383.3,396.9 L383.9,396.7 L384.5,396.6 L385.0,396.4 L385.6,396.2 L386.1,396.1 L386.7,395.9 L387.3,395.7 L387.8,395.5 L388.4,395.4 L389.0,395.2 L389.5,395.0 L390.1,394.9 L390.6,394.7 L391.2,394.5 L391.8,394.4 L392.3,394.2 L392.9,394.0 L393.4,393.9 L394.0,393.7" fill="none" stroke="#0b0b0b" stroke-width="3.79" stroke-linecap="round" stroke-linejoin="round"/>
<path d="M394.0,393.7 L394.6,393.5 L395.1,393.4 L395.7,393.2 L396.2,393.0 L396.8,392.9 L397.4,392.7 L397.9,392.6 L398.5,392.4 L399.0,392.2 L399.6,392.1 L400.2,391.9 L400.7,391.8 L401.3,391.6 L401.8,391.4 L402.4,391.3 L402.9,391.1 L403.5,391.0 L404.0,390.8 L404.6,390.6 L405.2,390.5 L405.7,390.3" fill="none" stroke="#0b0b0b" stroke-width="3.90" stroke-linecap="round" stroke-linejoin="round"/>
<path d="M405.7,390.3 L406.3,390.2 L406.8,390.0 L407.4,389.9 L407.9,389.7 L408.5,389.5 L409.0,389.4 L409.6,389.2 L410.1,389.1 L410.7,388.9 L411.2,388.7 L411.8,388.6 L412.4,388.4 L412.9,388.3 L413.5,388.1 L414.0,387.9 L414.6,387.8 L415.1,387.6 L415.7,387.4 L416.2,387.3 L416.8,387.1 L417.3,386.9" fill="none" stroke="#0b0b0b" stroke-width="3.90" stroke-linecap="round" stroke-linejoin="round"/>
<path d="M417.3,386.9 L418.4,386.6 L419.5,386.3 L420.6,385.9 L421.7,385.6 L422.8,385.2 L423.9,384.9 L425.0,384.5 L426.1,384.1 L427.2,383.8 L428.3,383.4" fill="none" stroke="#0b0b0b" stroke-width="3.90" stroke-linecap="round" stroke-linejoin="round"/>
<path d="M428.3,383.4 L428.8,383.2 L429.4,383.0 L429.9,382.8 L430.5,382.6 L431.0,382.4 L431.6,382.2 L432.1,382.0 L432.6,381.8 L433.2,381.6 L433.7,381.4 L434.3,381.2 L434.8,381.0 L435.4,380.8 L435.9,380.6 L436.5,380.4 L437.0,380.2 L437.5,380.0 L438.1,379.8 L438.6,379.6 L439.2,379.4 L439.7,379.1" fill="none" stroke="#0b0b0b" stroke-width="3.90" stroke-linecap="round" stroke-linejoin="round"/>
<path d="M439.7,379.1 L440.3,378.9 L440.8,378.7 L441.3,378.5 L441.9,378.3 L442.4,378.1 L443.0,377.9 L443.5,377.6 L444.1,377.4 L444.6,377.2 L445.1,377.0 L445.7,376.8 L446.2,376.5 L446.8,376.3 L447.3,376.1 L447.8,375.9 L448.4,375.7 L448.9,375.4 L449.5,375.2 L450.0,375.0 L450.5,374.8 L451.1,374.5" fill="none" stroke="#0b0b0b" stroke-width="3.90" stroke-linecap="round" stroke-linejoin="round"/>
<path d="M451.1,374.5 L451.6,374.3 L452.2,374.1 L452.7,373.8 L453.2,373.6 L453.8,373.4 L454.3,373.2 L454.9,372.9 L455.4,372.7 L455.9,372.5 L456.5,372.2 L457.0,372.0 L457.6,371.8 L458.1,371.5 L458.6,371.3 L459.2,371.1 L459.7,370.8 L460.2,370.6 L460.8,370.4 L461.3,370.1 L461.9,369.9 L462.4,369.7" fill="none" stroke="#0b0b0b" stroke-width="3.90" stroke-linecap="round" stroke-linejoin="round"/>
<path d="M462.4,369.7 L462.9,369.4 L463.5,369.2 L464.0,369.0 L464.5,368.7 L465.1,368.5 L465.6,368.3 L466.2,368.0 L466.7,367.8 L467.2,367.5 L467.8,367.3 L468.3,367.1 L468.8,366.8 L469.4,366.6 L469.9,366.3 L470.4,366.1 L471.0,365.9 L471.5,365.6 L472.0,365.4 L472.6,365.2 L473.1,364.9 L473.7,364.7" fill="none" stroke="#0b0b0b" stroke-width="3.90" stroke-linecap="round" stroke-linejoin="round"/>
<path d="M473.7,364.7 L474.7,364.2 L475.8,363.7 L476.9,363.2 L477.9,362.8 L479.0,362.3 L480.1,361.8 L481.1,361.3 L482.2,360.9 L483.3,360.4 L484.3,359.9" fill="none" stroke="#0b0b0b" stroke-width="3.90" stroke-linecap="round" stroke-linejoin="round"/>
<path d="M484.3,359.9 L484.9,359.7 L485.4,359.4 L485.9,359.2 L486.5,358.9 L487.0,358.7 L487.5,358.5 L488.1,358.2 L488.6,358.0 L489.1,357.8 L489.7,357.5 L490.2,357.3 L490.7,357.1 L491.3,356.8 L491.8,356.6 L492.3,356.4 L492.9,356.1 L493.4,355.9 L493.9,355.7 L494.5,355.4 L495.0,355.2 L495.5,355.0" fill="none" stroke="#0b0b0b" stroke-width="3.90" stroke-linecap="round" stroke-linejoin="round"/>
<path d="M495.5,355.0 L496.1,354.7 L496.6,354.5 L497.1,354.3 L497.7,354.1 L498.2,353.8 L498.7,353.6 L499.3,353.4 L499.8,353.1 L500.3,352.9 L500.9,352.7 L501.4,352.5 L501.9,352.2 L502.5,352.0 L503.0,351.8 L503.5,351.6 L504.1,351.3 L504.6,351.1 L505.1,350.9 L505.7,350.6 L506.2,350.4 L506.7,350.2" fill="none" stroke="#0b0b0b" stroke-width="3.90" stroke-linecap="round" stroke-linejoin="round"/>
<path d="M506.7,350.2 L507.2,349.9 L507.8,349.7 L508.3,349.5 L508.8,349.2 L509.4,349.0 L509.9,348.8 L510.4,348.5 L511.0,348.3 L511.5,348.0 L512.0,347.8 L512.5,347.6 L513.1,347.3 L513.6,347.1 L514.1,346.8 L514.7,346.5 L515.2,346.3 L515.7,346.0 L516.2,345.8 L516.8,345.5 L517.3,345.2 L517.8,345.0" fill="none" stroke="#0b0b0b" stroke-width="3.90" stroke-linecap="round" stroke-linejoin="round"/>
<path d="M517.8,345.0 L518.4,344.7 L518.9,344.4 L519.4,344.2 L519.9,343.9 L520.5,343.6 L521.0,343.3 L521.5,343.0 L522.0,342.8 L522.5,342.5 L523.1,342.2 L523.6,341.9 L524.1,341.6 L524.6,341.3 L525.2,341.0 L525.7,340.7 L526.2,340.4 L526.7,340.1 L527.2,339.8 L527.8,339.5 L528.3,339.2 L528.8,338.9" fill="none" stroke="#0b0b0b" stroke-width="3.87" stroke-linecap="round" stroke-linejoin="round"/>
<path d="M528.8,338.9 L529.8,338.3 L530.9,337.7 L531.9,337.1 L532.9,336.5 L533.9,335.9 L535.0,335.3 L536.0,334.7 L537.0,334.1 L538.0,333.5 L539.0,332.9" fill="none" stroke="#0b0b0b" stroke-width="3.75" stroke-linecap="round" stroke-linejoin="round"/>
<path d="M539.0,332.9 L539.6,332.6 L540.1,332.3 L540.6,332.0 L541.1,331.7 L541.6,331.4 L542.1,331.1 L542.6,330.8 L543.1,330.5 L543.6,330.2 L544.1,329.9 L544.6,329.6 L545.1,329.2 L545.6,328.9 L546.1,328.6 L546.6,328.3 L547.1,328.0 L547.6,327.7 L548.1,327.4 L548.6,327.1 L549.1,326.8 L549.5,326.4" fill="none" stroke="#0b0b0b" stroke-width="3.63" stroke-linecap="round" stroke-linejoin="round"/>
<path d="M549.5,326.4 L550.0,326.1 L550.5,325.8 L551.0,325.5 L551.5,325.2 L552.0,324.9 L552.5,324.5 L553.0,324.2 L553.5,323.9 L553.9,323.6 L554.4,323.3 L554.9,322.9 L555.4,322.6 L555.9,322.3 L556.4,322.0 L556.8,321.6 L557.3,321.3 L557.8,321.0 L558.3,320.7 L558.7,320.3 L559.2,320.0 L559.7,319.7" fill="none" stroke="#0b0b0b" stroke-width="3.52" stroke-linecap="round" stroke-linejoin="round"/>
<path d="M559.7,319.7 L560.2,319.3 L560.6,319.0 L561.1,318.7 L561.6,318.3 L562.1,318.0 L562.5,317.6 L563.0,317.3 L563.5,317.0 L563.9,316.6 L564.4,316.3 L564.9,315.9 L565.3,315.6 L565.8,315.2 L566.2,314.9 L566.7,314.5 L567.2,314.2 L567.6,313.8 L568.1,313.5 L568.5,313.1 L569.0,312.8 L569.4,312.4" fill="none" stroke="#0b0b0b" stroke-width="3.40" stroke-linecap="round" stroke-linejoin="round"/>
<path d="M569.4,312.4 L569.9,312.1 L570.3,311.7 L570.8,311.3 L571.2,311.0 L571.7,310.6 L572.1,310.2 L572.6,309.9 L573.0,309.5 L573.5,309.1 L573.9,308.8 L574.3,308.4 L574.8,308.0 L575.2,307.6 L575.6,307.2 L576.1,306.9 L576.5,306.5 L576.9,306.1 L577.4,305.7 L577.8,305.3 L578.2,304.9 L578.6,304.6" fill="none" stroke="#0b0b0b" stroke-width="3.28" stroke-linecap="round" stroke-linejoin="round"/>
<path d="M578.6,304.6 L579.5,303.8 L580.3,303.0 L581.1,302.2 L582.0,301.4 L582.8,300.6 L583.6,299.8 L584.4,298.9 L585.2,298.1 L586.0,297.3 L586.8,296.4" fill="none" stroke="#0b0b0b" stroke-width="3.17" stroke-linecap="round" stroke-linejoin="round"/>
<path d="M586.8,296.4 L587.2,296.0 L587.5,295.6 L587.9,295.2 L588.3,294.7 L588.7,294.3 L589.1,293.9 L589.4,293.4 L589.8,293.0 L590.2,292.6 L590.5,292.1 L590.9,291.7 L591.3,291.3 L591.6,290.8 L592.0,290.4 L592.4,289.9 L592.7,289.5 L593.1,289.0 L593.4,288.6 L593.8,288.1 L594.1,287.6 L594.5,287.2" fill="none" stroke="#0b0b0b" stroke-width="3.06" stroke-linecap="round" stroke-linejoin="round"/>
<path d="M594.5,287.2 L594.8,286.7 L595.1,286.3 L595.5,285.8 L595.8,285.3 L596.2,284.9 L596.5,284.4 L596.8,283.9 L597.1,283.4 L597.5,283.0 L597.8,282.5 L598.1,282.0 L598.4,281.5 L598.7,281.0 L599.0,280.6 L599.4,280.1 L599.7,279.6 L600.0,279.1 L600.3,278.6 L600.6,278.1 L600.9,277.6 L601.2,277.1" fill="none" stroke="#0b0b0b" stroke-width="2.96" stroke-linecap="round" stroke-linejoin="round"/>
<path d="M601.2,277.1 L601.4,276.6 L601.7,276.1 L602.0,275.6 L602.3,275.1 L602.6,274.5 L602.9,274.0 L603.1,273.5 L603.4,273.0 L603.7,272.5 L603.9,272.0 L604.2,271.4 L604.5,270.9 L604.7,270.4 L605.0,269.8 L605.2,269.3 L605.5,268.8 L605.7,268.2 L606.0,267.7 L606.2,267.2 L606.4,266.6 L606.7,266.1" fill="none" stroke="#0b0b0b" stroke-width="2.86" stroke-linecap="round" stroke-linejoin="round"/>
<path d="M606.7,266.1 L606.9,265.5 L607.1,265.0 L607.4,264.4 L607.6,263.9 L607.8,263.3 L608.0,262.7 L608.2,262.2 L608.4,261.6 L608.6,261.0 L608.8,260.5 L609.0,259.9 L609.2,259.3 L609.4,258.7 L609.6,258.2 L609.8,257.6 L610.0,257.0 L610.2,256.4 L610.3,255.8 L610.5,255.2 L610.7,254.6 L610.9,254.0" fill="none" stroke="#0b0b0b" stroke-width="2.75" stroke-linecap="round" stroke-linejoin="round"/>
<line x1="358.0" x2="622.6" y1="350.55" y2="350.55" stroke="#2a6fcc" stroke-width="1.45" stroke-dasharray="3.5 3.3"/>
<text transform="translate(531.7,365.60) scale(0.955,1)" font-size="10.14" font-weight="bold" fill="#1f6dbe">Mittelwert=34</text>
<text x="490.3" y="238.6" text-anchor="middle" font-size="15.1" fill="#080808" stroke="#080808" stroke-width="0.4">Hören bei Lärm (AV)</text>
<text x="490.8" y="436.70" text-anchor="middle" font-size="12.2" fill="#111" stroke="#111" stroke-width="0.3">Perzentile [35.000 Patienten]</text>
<text transform="translate(331.3,326.90) rotate(-90) scale(1,1.08)" text-anchor="middle" font-size="12.3" fill="#111" stroke="#111" stroke-width="0.33">Grad der Hörminderung</text>
</g>
</svg>
</body></html>
